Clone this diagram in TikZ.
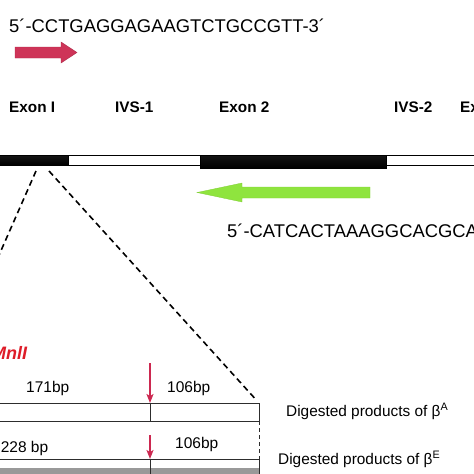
\documentclass[tikz,border=0pt]{standalone}
\usepackage{fontspec}
\setmainfont{Liberation Sans}
\usetikzlibrary{arrows.meta}
\definecolor{primred}{RGB}{206,52,88}
\definecolor{primgreen}{RGB}{143,228,62}
\definecolor{cutred}{RGB}{204,40,80}
\definecolor{enzred}{RGB}{222,28,40}
\definecolor{boxline}{RGB}{45,45,45}
\tikzset{
  seqtext/.style={inner sep=0pt, anchor=base west, font=\fontsize{18.4}{20}\selectfont},
  regionlabel/.style={inner sep=0pt, anchor=base west, font=\fontsize{15.3}{17}\selectfont\bfseries},
  bplabel/.style={inner sep=0pt, anchor=base west, font=\fontsize{15.5}{17}\selectfont},
  prodlabel/.style={inner sep=0pt, anchor=base west, font=\fontsize{15.4}{17}\selectfont},
  enzlabel/.style={inner sep=0pt, anchor=base west, text=enzred, font=\fontsize{18}{20}\selectfont\bfseries\itshape},
  exonbar/.style={draw=black, line width=0.8pt, top color=black!92, middle color=black!58, bottom color=black},
  intronbar/.style={draw=black, line width=0.8pt, fill=white},
  zoomdash/.style={draw=black, line width=1.6pt, dash pattern=on 6pt off 4pt},
  linkdash/.style={draw=boxline, line width=1pt, dash pattern=on 4pt off 3pt},
  fragbox/.style={draw=boxline, line width=1pt},
  cutarrow/.style={draw=cutred, line width=1.3pt, -{Stealth[length=9pt,width=7pt,inset=2pt]}},
}
\begin{document}
\begin{tikzpicture}[x=1pt,y=-1pt]
\useasboundingbox (0,0) rectangle (474,474);
% top primer sequence
\node[seqtext] (fwdseq) at (9,32) {5´-CCTGAGGAGAAGTCTGCCGTT-3´};
% forward primer arrow
\filldraw[fill=primred, draw=primred!85!black, line width=0.4pt]
  (15,47) -- (61,47) -- (61,42) -- (77,52.5) -- (61,63) -- (61,58) -- (15,58) -- cycle;
% region labels
\node[regionlabel] (ex1) at (9,112) {Exon I};
\node[regionlabel] (ivs1) at (115,112) {IVS-1};
\node[regionlabel] (ex2) at (219,112) {Exon 2};
\node[regionlabel] (ivs2) at (394,112) {IVS-2};
\node[regionlabel] (ex3) at (460,112) {Exon 3};
% gene bar
\path[intronbar] (68,155.5) rectangle (200,165);
\path[intronbar] (385,155.5) rectangle (490,165);
\path[exonbar] (-10,155.5) rectangle (68,165);
\path[exonbar] (200,155) rectangle (386,168.5);
% reverse primer arrow
\filldraw[fill=primgreen, draw=primgreen!90!black, line width=0.3pt]
  (370,187) -- (242,187) -- (242,183) -- (197,192.5) -- (242,202) -- (242,198) -- (370,198) -- cycle;
\node[seqtext] (revseq) at (227,237) {5´-CATCACTAAAGGCACGCA};
% zoom lines
\coordinate (zl) at (36,171);
\coordinate (zr) at (49,171);
\coordinate (b1tl) at (-66,403);
\coordinate (b1tr) at (259,403);
\coordinate (b1br) at (259,421);
\coordinate (b2tr) at (259,459);
\draw[zoomdash] (zl) -- (b1tl);
\draw[zoomdash, shorten >=4pt] (zr) -- (b1tr);
% enzyme label
\node[enzlabel] (enz) at (-9,359) {MnlI};
% fragment box 1
\node[bplabel] (f171) at (26,392.5) {171bp};
\node[bplabel] (f106a) at (167,392.5) {106bp};
\coordinate (c1top) at (150,363);
\coordinate (c1) at (150,403);
\coordinate (c1b) at (150,421);
\draw[fragbox] (-80,403) rectangle (b1br);
\draw[fragbox] (c1) -- (c1b);
\draw[cutarrow] (c1top) -- (c1);
\node[prodlabel] (pa) at (286,416) {Digested products of β\textsuperscript{A}};
% link
\draw[linkdash] (b1br) -- (b2tr);
% fragment box 2
\node[bplabel] (f228) at (0.6,452.5) {228 bp};
\node[bplabel] (f106b) at (175,448.5) {106bp};
\coordinate (c2top) at (150,435);
\coordinate (c2) at (150,459);
\coordinate (c2b) at (150,480);
\fill[black!40] (-80,468) rectangle (259,480);
\draw[fragbox] (-80,459) rectangle (259,480);
\draw[fragbox] (c2) -- (c2b);
\draw[cutarrow] (c2top) -- (c2);
\node[prodlabel] (pe) at (278,464) {Digested products of β\textsuperscript{E}};
\end{tikzpicture}
\end{document}
